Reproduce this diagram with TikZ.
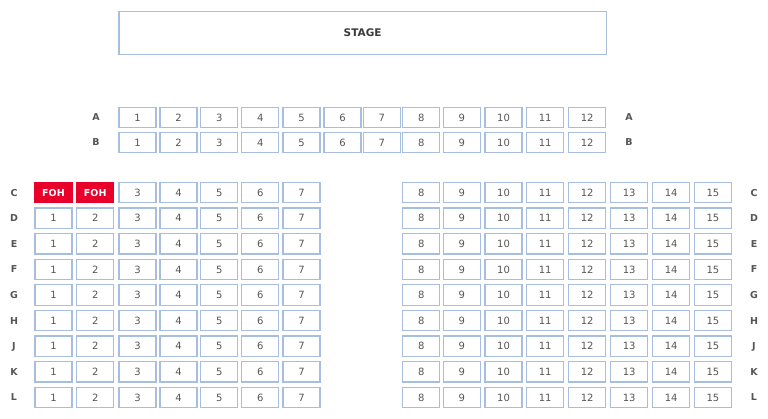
\documentclass[tikz,border=0pt]{standalone}
\usepackage{fontspec}
\setmainfont{DejaVu Sans}
\definecolor{seatline}{HTML}{A7BEDE}
\definecolor{txt}{HTML}{555555}
\definecolor{stagetxt}{HTML}{3A3A3A}
\definecolor{foh}{HTML}{E8002A}
\tikzset{
  seat/.style={draw=seatline, line width=1.2pt, minimum width=37pt, minimum height=20.5pt, inner sep=0pt, text height=7.3pt, text depth=0pt, text=txt, font=\fontsize{10}{12}\selectfont},
  fohseat/.style={seat, fill=foh, draw=foh, text=white, text height=6.9pt, font=\bfseries\fontsize{9.5}{11}\selectfont},
  rowlab/.style={text=txt, inner sep=0pt, text height=6.9pt, text depth=0pt, font=\bfseries\fontsize{9.5}{11}\selectfont},
  stagebox/.style={draw=seatline, line width=1.2pt, minimum width=487.5pt, minimum height=43.1pt, inner sep=0pt, text height=7.6pt, text depth=0pt, text=stagetxt, font=\bfseries\fontsize{10.5}{12}\selectfont}
}
\begin{document}
\begin{tikzpicture}[x=1pt,y=-1pt]
\useasboundingbox (0,0) rectangle (768,419);
% stage
\node[stagebox] (stage) at (362.65,32.85) {STAGE};
% rows A and B
\foreach \r/\yc in {A/117.5,B/142.5}{
  \foreach \x [count=\i] in {118.3,159.3,200,241,282.3,323.3,362.7,402,442.7,484.3,526,568}{
    \node[seat] (\r\i) at (\x+19.2,\yc) {\i};
  }
  \node[rowlab] (l\r) at (96,\yc) {\r};
  \node[rowlab] (r\r) at (629,\yc) {\r};
}
% rows C to L
\foreach \r [count=\k from 0] in {C,D,E,F,G,H,J,K,L}{
  \pgfmathsetmacro{\yc}{192.6+25.6*\k}
  \foreach \x [count=\i] in {34.3,76,118.3,159.3,200,241,282.3}{
    \ifnum\k=0
      \ifnum\i<3
        \node[fohseat] (\r\i) at (\x+19.2,\yc) {FOH};
      \else
        \node[seat] (\r\i) at (\x+19.2,\yc) {\i};
      \fi
    \else
      \node[seat] (\r\i) at (\x+19.2,\yc) {\i};
    \fi
  }
  \foreach \x [count=\i from 8] in {402,442.7,484.3,526,568,610,652,693.7}{
    \node[seat] (\r\i) at (\x+19.2,\yc) {\i};
  }
  \node[rowlab] (l\r) at (14,\yc) {\r};
  \node[rowlab] (r\r) at (754,\yc) {\r};
}
\end{tikzpicture}
\end{document}
